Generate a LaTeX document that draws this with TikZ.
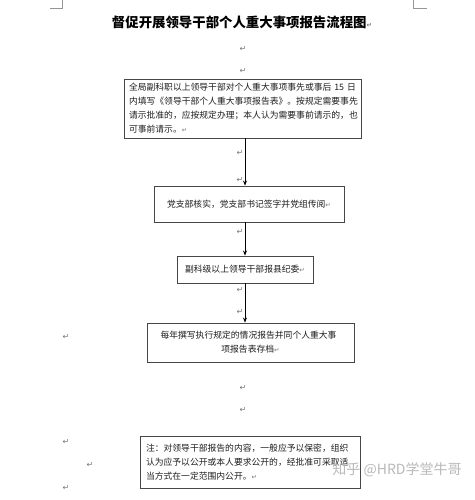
\documentclass[tikz,border=0pt]{standalone}
\usepackage{fontspec}
\setmainfont{Noto Sans CJK SC}
\newfontfamily\cjkfont{Noto Sans CJK SC}
\newfontfamily\djvfont{DejaVu Sans}
\usetikzlibrary{arrows.meta}
\XeTeXlinebreaklocale "zh"
\XeTeXlinebreakskip=0pt plus 2pt
\definecolor{retgray}{RGB}{120,120,120}
\definecolor{boxline}{RGB}{70,70,70}
\definecolor{boxtext}{RGB}{30,30,30}
\definecolor{wmgray}{RGB}{185,185,185}
\definecolor{cornergray}{RGB}{150,150,150}
\newcommand{\retmark}{{\djvfont\color{retgray}\fontsize{6.5}{6.5}\selectfont ↵}}
\newcommand{\fullline}[2]{\makebox[#1][s]{#2}}
\tikzset{
  flowbox/.style={draw=boxline, line width=0.9pt, rectangle, inner ysep=3pt, text=boxtext,
    font=\cjkfont\fontsize{8.8}{14}\selectfont},
  flowarrow/.style={draw=black, line width=0.7pt, -{Stealth[length=5pt,width=4pt]}},
  retnode/.style={inner sep=0pt, font=\djvfont\fontsize{8}{8}\selectfont, text=retgray},
  cornerline/.style={draw=cornergray, line width=0.6pt}
}
\begin{document}
\begin{tikzpicture}[x=1pt,y=-1pt]
\useasboundingbox (0,0) rectangle (474,500);
\fill[white] (0,0) rectangle (474,500);
% page corner marks
\coordinate (cl1) at (50,8); \coordinate (cl2) at (62,8); \coordinate (cl3) at (62,0);
\coordinate (cr1) at (427,8); \coordinate (cr2) at (413,8); \coordinate (cr3) at (413,0);
\draw[cornerline] (cl1) -- (cl2) -- (cl3);
\draw[cornerline] (cr1) -- (cr2) -- (cr3);
% title
\node[inner sep=0pt, font=\cjkfont\bfseries\fontsize{13.4}{14}\selectfont] (title) at (242,22)
  {督促开展领导干部个人重大事项报告流程图\retmark};
% boxes
\node[flowbox, text width=227pt, inner xsep=5pt, minimum height=59pt, align=left] (b1) at (242.5,108.5)
  {\fullline{227pt}{全局副科职以上领导干部对个人重大事项事先或事后 15 日}\\
   \fullline{227pt}{内填写《领导干部个人重大事项报告表》。按规定需要事先}\\
   \fullline{227pt}{请示批准的，应按规定办理；本人认为需要事前请示的，也}\\
   可事前请示。\retmark};
\node[flowbox, minimum width=190pt, minimum height=36pt, align=center] (b2) at (249,204)
  {党支部核实，党支部书记签字并党组传阅\retmark};
\node[flowbox, minimum width=136pt, minimum height=27pt, align=center] (b3) at (245,269.5)
  {副科级以上领导干部报县纪委\retmark};
\node[flowbox, minimum width=207pt, minimum height=39pt, align=center] (b4) at (250.5,342.5)
  {\fullline{180pt}{每年撰写执行规定的情况报告并同个人重大事}\\项报告表存档\retmark};
\node[flowbox, text width=208pt, inner xsep=6pt, minimum height=52pt, align=left] (b5) at (250,462)
  {\fullline{208pt}{注：对领导干部报告的内容，一般应予以保密，组织}\\
   \fullline{208pt}{认为应予以公开或本人要求公开的，经批准可采取适}\\
   当方式在一定范围内公开。\retmark};
% arrows
\coordinate (axis) at (245,0);
\draw[flowarrow] (b1.south -| axis) -- (b2.north -| axis);
\draw[flowarrow] (b2.south -| axis) -- (b3.north -| axis);
\draw[flowarrow] (b3.south -| axis) -- (b4.north -| axis);
% paragraph marks
\foreach \i/\p in {r1/{243,49}, r2/{243,71}, r3/{240,153}, r4/{240,180}, r5/{240,232},
                   r6/{240,290}, r7/{240,312}, r8/{243,388}, r9/{243,410},
                   r10/{66,337}, r11/{66,442}, r12/{90,465}, r13/{66,488}}
  \node[retnode] (\i) at (\p) {↵};
% watermark
\node[inner sep=0pt, text=wmgray, font=\cjkfont\fontsize{14}{14}\selectfont] (wm) at (397,470)
  {知乎 @HRD学堂牛哥};
\end{tikzpicture}
\end{document}
